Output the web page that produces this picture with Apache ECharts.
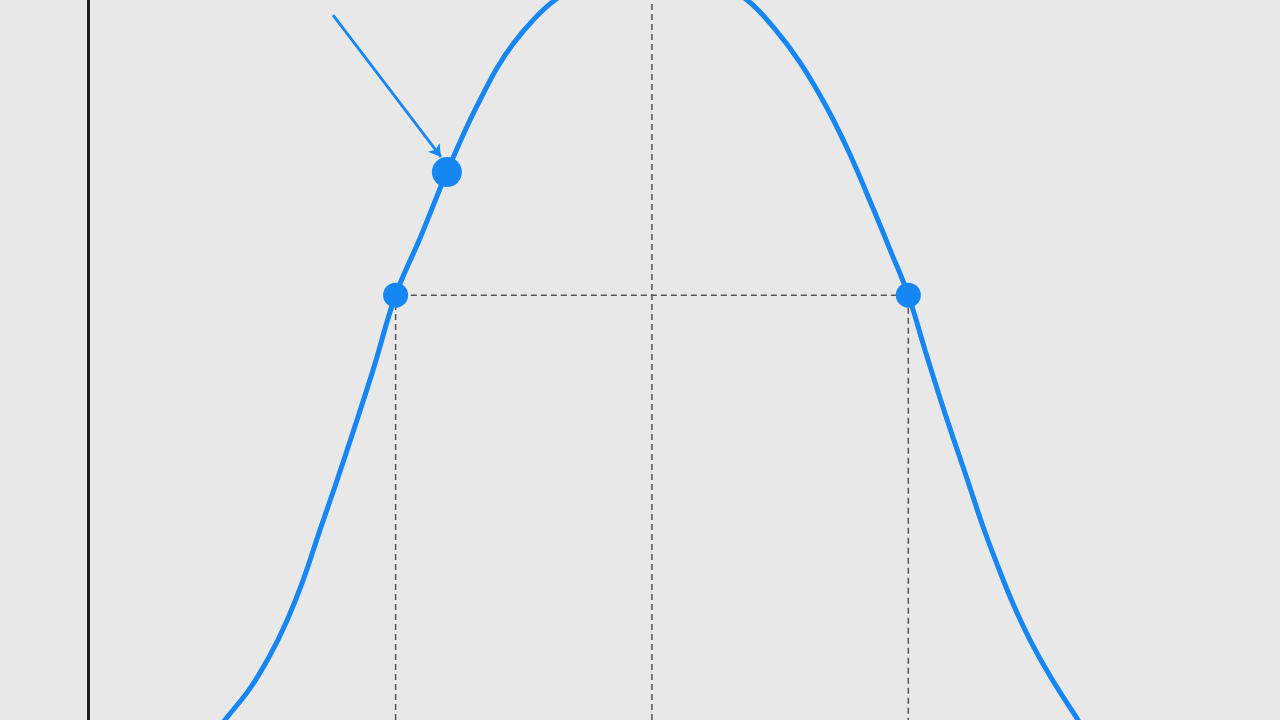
<!DOCTYPE html>
<html>
<head>
<meta charset="utf-8">
<script src="https://cdn.jsdelivr.net/npm/echarts@6/dist/echarts.min.js"></script>
<style>
html,body{margin:0;padding:0;background:#e8e8e8;}
#c{width:1280px;height:720px;}
</style>
</head>
<body>
<div id="c"></div>
<script>
// Curve (x in standard deviations, y in % of visible height)
const curveX = [-1.744,-1.666,-1.568,-1.490,-1.424,-1.361,-1.295,-1.236,-1.166,-1.088,-1.000,-0.905,-0.800,-0.722,-0.671,-0.604,-0.542,-0.464,-0.378,-0.203,0.000,0.203,0.371,0.472,0.578,0.683,0.773,0.862,0.929,1.000,1.065,1.143,1.233,1.292,1.350,1.409,1.475,1.553,1.662,1.740];
const curveY = [-3.5,0.0,4.4,9.0,13.8,19.4,26.4,32.5,40.0,48.6,59.0,66.9,76.1,82.4,86.1,90.6,93.9,97.2,100.0,103.9,105.6,103.9,100.0,96.3,91.3,85.0,78.5,71.1,65.3,59.0,51.4,42.6,33.1,26.8,21.3,16.1,11.1,6.1,0.0,-4.2];
// Marked points
const inflectX = [-1.0, 1.0];
const inflectY = [59.0, 59.0];
const highlightX = [-0.8];
const highlightY = [76.1];
// Reference (dashed) lines
const meanX = 0;
const levelY = 59.0;
// Annotation arrow: start and tip
const arrowFrom = [-1.244, 97.9];
const arrowTo = [-0.823, 78.2];
const xMin = -2.2, xMax = 2.45, yMin = 0, yMax = 100;

const blue = '#1686f3';
const dashStyle = {color:'#555555', width:1.5, type:[6,4]};
const chart = echarts.init(document.getElementById('c'));
chart.setOption({
  animation:false,
  backgroundColor:'#e8e8e8',
  grid:{left:88,right:0,top:0,bottom:0},
  xAxis:{type:'value',min:xMin,max:xMax,
    axisLine:{show:false},axisTick:{show:false},axisLabel:{show:false},splitLine:{show:false}},
  yAxis:{type:'value',min:yMin,max:yMax,
    axisLine:{show:true,onZero:false,lineStyle:{color:'#1e1e1e',width:3}},
    axisTick:{show:false},axisLabel:{show:false},splitLine:{show:false}},
  series:[
    {type:'line',name:'mean',symbol:'none',silent:true,z:1,
      data:[[meanX,yMin],[meanX,yMax]],lineStyle:dashStyle},
    {type:'line',name:'level',symbol:'none',silent:true,z:1,
      data:[[inflectX[0],yMin],[inflectX[0],levelY],[inflectX[1],levelY],[inflectX[1],yMin]],lineStyle:dashStyle},
    {type:'line',name:'curve',smooth:0.4,symbol:'none',clip:true,z:3,
      data:curveX.map((x,i)=>[x,curveY[i]]),
      lineStyle:{color:blue,width:5}},
    {type:'scatter',name:'inflection',symbolSize:25,z:4,
      itemStyle:{color:blue,opacity:1},
      data:inflectX.map((x,i)=>[x,inflectY[i]])},
    {type:'scatter',name:'highlight',symbolSize:30,z:4,
      itemStyle:{color:blue,opacity:1},
      data:highlightX.map((x,i)=>[x,highlightY[i]]),
      markLine:{silent:true,symbol:['none','arrow'],symbolSize:[11,12],label:{show:false},
        lineStyle:{color:blue,width:2.8,type:'solid'},
        data:[[{coord:arrowFrom},{coord:arrowTo}]]}}
  ]
});
</script>
</body>
</html>
